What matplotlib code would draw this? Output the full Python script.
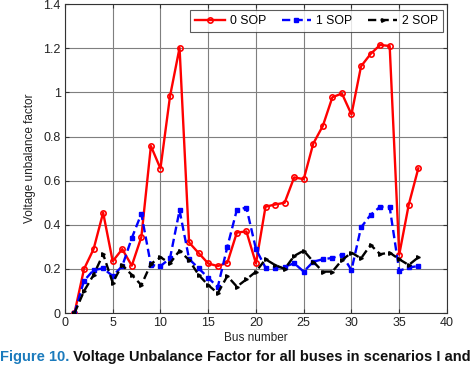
import matplotlib
matplotlib.use("Agg")
import matplotlib.pyplot as plt

plt.rcParams['font.family'] = ['Liberation Sans', 'DejaVu Sans']

bus = list(range(1, 38))
sop0 = [0.00, 0.20, 0.29, 0.455, 0.235, 0.29, 0.215, 0.345, 0.757, 0.655,
        0.982, 1.202, 0.32, 0.272, 0.225, 0.213, 0.228, 0.365, 0.37, 0.225,
        0.482, 0.492, 0.50, 0.615, 0.607, 0.768, 0.848, 0.978, 0.995, 0.90,
        1.118, 1.174, 1.215, 1.21, 0.265, 0.492, 0.656]
sop1 = [0.00, 0.147, 0.195, 0.203, 0.168, 0.213, 0.34, 0.45, 0.218, 0.213,
        0.248, 0.466, 0.245, 0.203, 0.16, 0.118, 0.30, 0.468, 0.478, 0.29,
        0.206, 0.206, 0.21, 0.226, 0.188, 0.233, 0.244, 0.25, 0.264, 0.195,
        0.388, 0.445, 0.482, 0.48, 0.192, 0.207, 0.213]
sop2 = [0.00, 0.10, 0.173, 0.267, 0.138, 0.218, 0.173, 0.127, 0.223, 0.253,
        0.226, 0.283, 0.24, 0.173, 0.127, 0.09, 0.168, 0.12, 0.153, 0.188,
        0.244, 0.218, 0.20, 0.259, 0.283, 0.233, 0.188, 0.188, 0.24, 0.274,
        0.248, 0.309, 0.267, 0.274, 0.244, 0.218, 0.253]
labels = ["0 SOP", "1 SOP", "2 SOP"]
xticks = [0, 5, 10, 15, 20, 25, 30, 35, 40]
yticks = [0, 0.2, 0.4, 0.6, 0.8, 1, 1.2, 1.4]
ytick_labels = ["0", "0.2", "0.4", "0.6", "0.8", "1", "1.2", "1.4"]

fig = plt.figure(figsize=(4.74, 3.71), dpi=100)
ax = fig.add_axes([0.137, 0.156, 0.806, 0.833])

ax.plot(bus, sop0, color='#ff0000', lw=1.7, marker='o', ms=3.8, mfc='none',
        mec='#ff0000', mew=1.2, label=labels[0], zorder=3)
ax.plot(bus, sop1, color='#0000ff', lw=1.7, ls=(0, (3.5, 1.8)), marker='s', ms=2.4,
        mfc='#0000ff', mec='#0000ff', label=labels[1], zorder=3)
ax.plot(bus, sop2, color='#000000', lw=1.7, ls=(0, (3.5, 1.8)), marker='>', ms=2.6,
        mfc='black', mec='black', label=labels[2], zorder=3)

ax.set_xlim(0, 40)
ax.set_ylim(0, 1.4)
ax.set_xticks(xticks)
ax.set_yticks(yticks)
ax.set_yticklabels(ytick_labels)
ax.grid(True, color='#7f7f7f', lw=0.8, ls='-')
ax.set_axisbelow(True)
ax.tick_params(direction='in', top=True, right=True, length=3, labelsize=9,
               color='#333333', labelcolor='#222222', pad=3)
for s in ax.spines.values():
    s.set_color('#333333')
    s.set_linewidth(0.8)

ax.set_xlabel("Bus number", fontsize=8.5, color='#222222', labelpad=2)
ax.set_ylabel("Voltage unbalance factor", fontsize=8.5, color='#222222', labelpad=5)

leg = ax.legend(loc='upper right', ncol=3, fontsize=8.8, frameon=True, fancybox=False,
                edgecolor='#333333', handlelength=2.4, columnspacing=1.3,
                handletextpad=0.4, borderpad=0.4, borderaxespad=0,
                bbox_to_anchor=(0.99, 0.98))
leg.get_frame().set_linewidth(0.8)

t1 = fig.text(0.0, 0.026, "Figure 10.", fontsize=10.5, fontweight='bold',
              color='#1b7bbd')
ax.annotate(" Voltage Unbalance Factor for all buses in scenarios I and",
            xy=(1, 0), xycoords=t1, fontsize=10.5, fontweight='bold',
            color='#111111', va='bottom', ha='left', annotation_clip=False)

fig.savefig("out.png", dpi=100)
